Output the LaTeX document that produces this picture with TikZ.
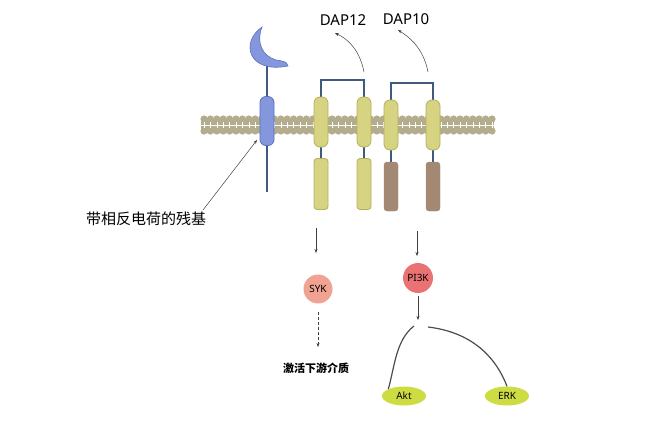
\documentclass[tikz,border=0pt]{standalone}
\usepackage{fontspec}
\setmainfont{Noto Sans}
\newfontfamily\cjk{Noto Sans CJK SC}
\usetikzlibrary{arrows.meta,shapes.geometric}
\definecolor{bead}{HTML}{B3AD8E}
\definecolor{blu}{HTML}{8496DC}
\definecolor{blud}{HTML}{5B6FC0}
\definecolor{stem}{HTML}{3E5A80}
\definecolor{yel}{HTML}{D6D383}
\definecolor{yeld}{HTML}{B5B05A}
\definecolor{brn}{HTML}{A38874}
\definecolor{syk}{HTML}{F0A293}
\definecolor{pik}{HTML}{EA7272}
\definecolor{lim}{HTML}{CEDC44}
\tikzset{
 pill/.style={draw=yeld,fill=yel,line width=0.8pt,rounded corners=6pt,minimum width=14pt,inner sep=0pt},
 bpill/.style={draw=brn,fill=brn,rounded corners=3pt,minimum width=14pt,inner sep=0pt,minimum height=49pt},
 st/.style={draw=stem,line width=2pt},
 arr/.style={-{Stealth[length=4pt,width=3pt]},line width=0.5pt,draw=black!75},
 small/.style={font=\fontsize{10}{12}\selectfont},
}
\begin{document}
\begin{tikzpicture}[x=1pt,y=-1pt]
\useasboundingbox (0,0) rectangle (658,424);
% membrane
\fill[bead] (201,118) rectangle (494,133);
\foreach \i in {0,...,45}{
 \fill[bead] (204+\i*6.4,119) circle (3.6);
 \fill[bead] (204+\i*6.4,131) circle (3.6);
 \draw[white,line width=0.5pt] (204+\i*6.4,122) -- (204+\i*6.4,128);
}
\draw[white,line width=0.5pt] (201,125) -- (494,125);
% blue receptor
\draw[st] (267,62) -- (267,192);
\fill[blu,draw=blud,line width=0.6pt] (262,27) .. controls (240,42) and (248,74) .. (288,66)
  .. controls (287,61) and (282,61) .. (276,60) .. controls (262,56) and (256,42) .. (262,27) -- cycle;
\node[pill,draw=blud,fill=blu,minimum height=49pt] (bp) at (267,121) {};
% DAP12
\draw[st,line width=1.6pt] (321,100) -- (321,80) -- (364,80) -- (364,100);
\draw[st] (321,140) -- (321,162); \draw[st] (364,140) -- (364,162);
\node[pill,minimum height=50pt] (a1) at (321,122) {};
\node[pill,minimum height=50pt] (a2) at (364,122) {};
\node[pill,rounded corners=3pt,minimum height=51pt] (a3) at (321,184) {};
\node[pill,rounded corners=3pt,minimum height=51pt] (a4) at (364,184) {};
% DAP10
\draw[st,line width=1.6pt] (391,103) -- (391,83) -- (433,83) -- (433,103);
\draw[st] (391,145) -- (391,165); \draw[st] (433,145) -- (433,165);
\node[pill,minimum height=50pt] (b1) at (391,125) {};
\node[pill,minimum height=50pt] (b2) at (433,125) {};
\node[bpill] (b3) at (391,186.5) {};
\node[bpill] (b4) at (433,186.5) {};
% labels
\node[font=\fontsize{15}{18}\selectfont] (d12) at (343,20) {DAP12};
\node[font=\fontsize{15}{18}\selectfont] (d10) at (406,19) {DAP10};
\coordinate (c12) at (364,72); \coordinate (c10) at (428,72);
\draw[arr] (c12) .. controls (360,52) and (350,40) .. (335,33);
\draw[arr] (c10) .. controls (424,52) and (414,40) .. (398,30);
\node[font=\cjk\fontsize{15}{18}\selectfont] (res) at (146,219) {带相反电荷的残基};
\coordinate (r0) at (203,210);
\draw[arr] (r0) -- (257,140);
% SYK path
\coordinate (s0) at (316,228); \coordinate (s1) at (316,253);
\draw[arr] (s0) -- (s1);
\node[circle,fill=syk,minimum size=29pt,inner sep=0pt,small] (syk) at (318,289) {SYK};
\coordinate (s2) at (318,312); \coordinate (s3) at (318,347);
\draw[arr,densely dashed] (s2) -- (s3);
\node[font=\cjk\fontsize{11}{13}\selectfont\bfseries] (act) at (316,368) {激活下游介质};
% PI3K path
\coordinate (p0) at (417,231); \coordinate (p1) at (417,256);
\draw[arr] (p0) -- (p1);
\node[circle,fill=pik,minimum size=30pt,inner sep=0pt,small] (pi) at (418,278) {PI3K};
\coordinate (p2) at (418,296); \coordinate (p3) at (418,320);
\draw[arr] (p2) -- (p3);
\node[ellipse,fill=lim,minimum width=44pt,minimum height=19pt,inner sep=0pt,small] (akt) at (404,396) {Akt};
\node[ellipse,fill=lim,minimum width=44pt,minimum height=19pt,inner sep=0pt,small] (erk) at (507,396) {ERK};
\coordinate (q1) at (414,326); \coordinate (q2) at (428,327);
\draw[line width=1.2pt,black!70] (q1) .. controls (396,340) and (395,365) .. (akt.north west);
\draw[line width=1.2pt,black!70] (q2) .. controls (470,332) and (495,355) .. (erk.north);
\end{tikzpicture}
\end{document}
